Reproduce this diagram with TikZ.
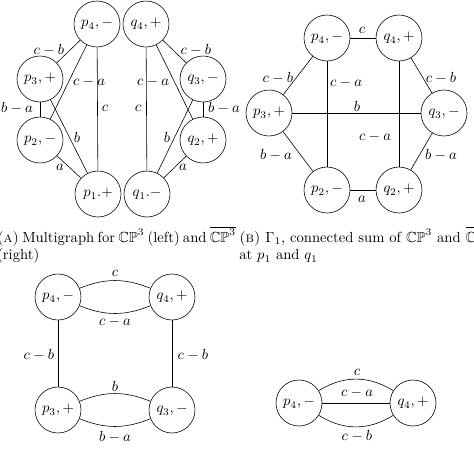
\documentclass[tikz,border=0pt]{standalone}
\usepackage{amssymb}
\begin{document}
\begin{tikzpicture}[x=0.24mm,y=-0.24mm,
  vtx/.style={circle,draw,inner sep=0pt,minimum size=11.04mm},
  lbl/.style={inner sep=0pt},
  captxt/.style={anchor=north west,align=left,inner sep=0pt}]
\useasboundingbox (0,0) rectangle (474,457);
% ---------- Panel A ----------
\node[vtx] (p4) at (97,24) {$p_4,-$};
\node[vtx] (p3) at (40,79) {$p_3,+$};
\node[vtx] (p2) at (40,140) {$p_2,-$};
\node[vtx] (p1) at (98,194) {$p_1.+$};
\node[vtx] (q4) at (146,24) {$q_4,+$};
\node[vtx] (q3) at (203,79) {$q_3,-$};
\node[vtx] (q2) at (203,140) {$q_2,+$};
\node[vtx] (q1) at (147,194) {$q_1.-$};
\draw (p4) -- (p3); \draw (p4) -- (p2); \draw (p4) -- (p1);
\draw (p3) -- (p2); \draw (p3) -- (p1); \draw (p2) -- (p1);
\draw (q4) -- (q3); \draw (q4) -- (q2); \draw (q4) -- (q1);
\draw (q3) -- (q2); \draw (q3) -- (q1); \draw (q2) -- (q1);
\node[lbl] (la1) at (49,50) {$c-b$};
\node[lbl] (la2) at (89,82) {$c-a$};
\node[lbl] (la3) at (105,108) {$c$};
\node[lbl] (la4) at (17,108) {$b-a$};
\node[lbl] (la5) at (77,137) {$b$};
\node[lbl] (la6) at (60,167) {$a$};
\node[lbl] (lb1) at (196,50) {$c-b$};
\node[lbl] (lb2) at (153,82) {$c-a$};
\node[lbl] (lb3) at (138,108) {$c$};
\node[lbl] (lb4) at (224,108) {$b-a$};
\node[lbl] (lb5) at (167,137) {$b$};
\node[lbl] (lb6) at (183,167) {$a$};
\node[captxt] (capA) at (-3,226) {\spaceskip=2.2pt\relax\textsc{(a)} Multigraph for $\mathbb{CP}^3$ (left) and $\overline{\mathbb{CP}^3}$\\(right)};
% ---------- Panel B ----------
\node[vtx] (Bp4) at (327,38) {$p_4,-$};
\node[vtx] (Bq4) at (399,38) {$q_4,+$};
\node[vtx] (Bp3) at (269,113) {$p_3,+$};
\node[vtx] (Bq3) at (444,113) {$q_3,-$};
\node[vtx] (Bp2) at (327,190) {$p_2,-$};
\node[vtx] (Bq2) at (399,190) {$q_2,+$};
\draw (Bp4) -- (Bq4); \draw (Bp4) -- (Bp3); \draw (Bq4) -- (Bq3);
\draw (Bp3) -- (Bq3); \draw (Bp4) -- (Bp2); \draw (Bq4) -- (Bq2);
\draw (Bp3) -- (Bp2); \draw (Bq3) -- (Bq2); \draw (Bp2) -- (Bq2);
\node[lbl] (lc1) at (362,30) {$c$};
\node[lbl] (lc2) at (278,78) {$c-b$};
\node[lbl] (lc3) at (441,78) {$c-b$};
\node[lbl] (lc4) at (357,106) {$b$};
\node[lbl] (lc5) at (346,83) {$c-a$};
\node[lbl] (lc6) at (375,137) {$c-a$};
\node[lbl] (lc7) at (276,155) {$b-a$};
\node[lbl] (lc8) at (441,155) {$b-a$};
\node[lbl] (lc9) at (362,199) {$a$};
\node[captxt] (capB) at (239,226) {\textsc{(b)} $\Gamma_1$, connected sum of $\mathbb{CP}^3$ and $\overline{\mathbb{CP}^3}$\\at $p_1$ and $q_1$};
% ---------- Panel C ----------
\node[vtx] (Cp4) at (58,297) {$p_4,-$};
\node[vtx] (Cq4) at (172,297) {$q_4,+$};
\node[vtx] (Cp3) at (58,410) {$p_3,+$};
\node[vtx] (Cq3) at (172,410) {$q_3,-$};
\draw (Cp4) to[bend left=22] (Cq4);
\draw (Cp4) to[bend right=22] (Cq4);
\draw (Cp4) -- (Cp3); \draw (Cq4) -- (Cq3);
\draw (Cp3) to[bend left=22] (Cq3);
\draw (Cp3) to[bend right=22] (Cq3);
\node[lbl] (ld1) at (115,273) {$c$};
\node[lbl] (ld2) at (115,322) {$c-a$};
\node[lbl] (ld3) at (39,355) {$c-b$};
\node[lbl] (ld4) at (193,355) {$c-b$};
\node[lbl] (ld5) at (115,386) {$b$};
\node[lbl] (ld6) at (115,437) {$b-a$};
% ---------- Panel D ----------
\node[vtx] (Dp4) at (299,403) {$p_4,-$};
\node[vtx] (Dq4) at (413,403) {$q_4,+$};
\draw (Dp4) to[bend left=32] (Dq4);
\draw (Dp4) -- (Dq4);
\draw (Dp4) to[bend right=32] (Dq4);
\node[lbl] (le1) at (357,372) {$c$};
\node[lbl] (le2) at (357,393) {$c-a$};
\node[lbl] (le3) at (357,436) {$c-b$};
\end{tikzpicture}
\end{document}
